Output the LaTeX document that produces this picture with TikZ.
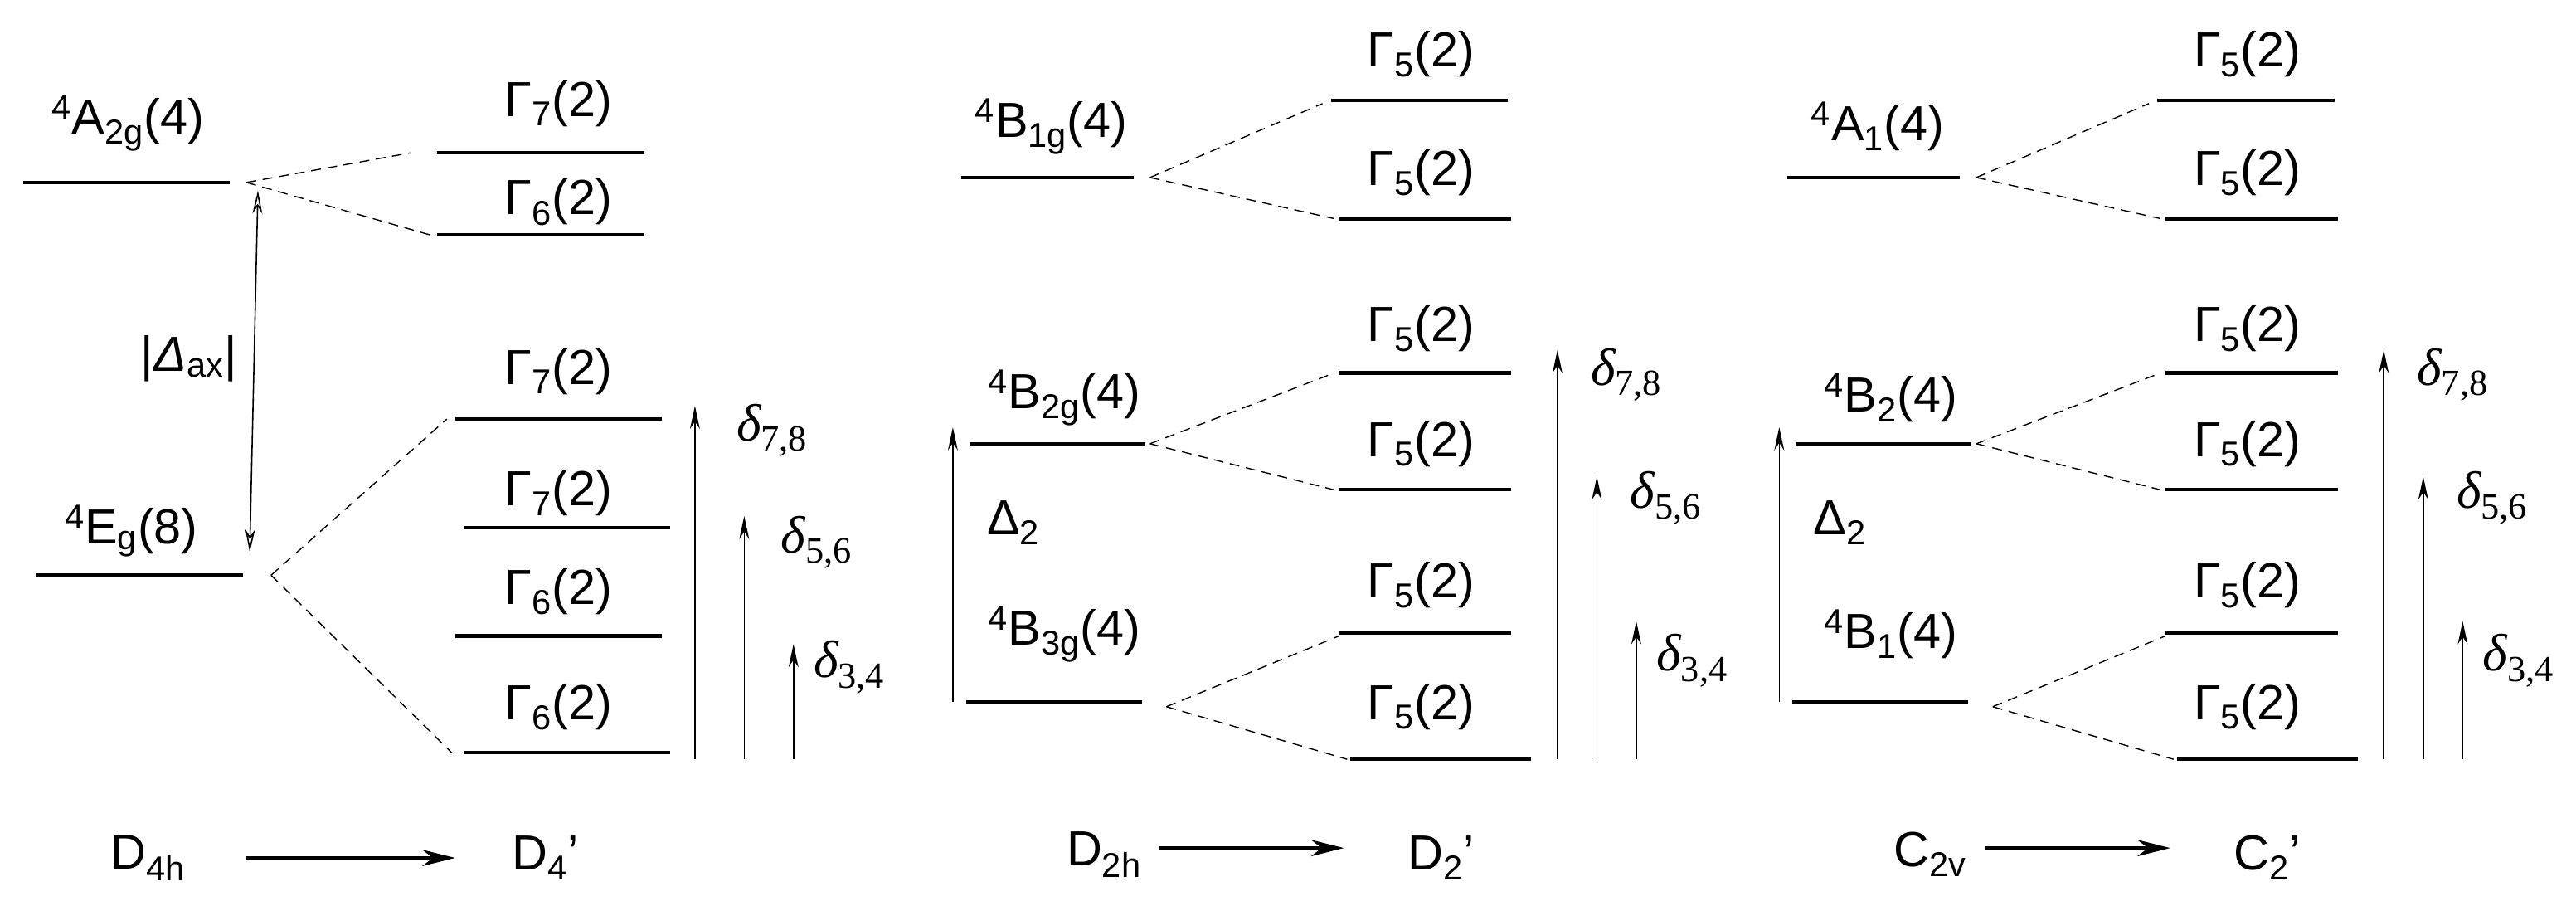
\documentclass[tikz,border=0pt]{standalone}
\usepackage{fontspec}
\setmainfont{Liberation Sans}
\newfontfamily\tms{Liberation Serif}
\usetikzlibrary{arrows.meta}
\newcommand{\sub}[1]{\textsubscript{#1}}
\newcommand{\sps}[1]{\textsuperscript{#1}}
\newcommand{\dlt}[1]{{\tms\itshape δ}\sub{\tms #1}}
\begin{document}
\begin{tikzpicture}[x=1pt,y=-1pt,
 lvl/.style={line width=2.2pt},
 dsh/.style={line width=0.7pt,dash pattern=on 6pt off 4pt},
 arr/.style={-{Stealth[length=14pt,width=6pt]},line width=0.8pt},
 lab/.style={font=\fontsize{30}{32}\selectfont,inner sep=0pt},
 dlab/.style={font=\fontsize{32}{34}\selectfont,inner sep=0pt}]
\useasboundingbox (0,0) rectangle (1568,551);
% Panel 1
\draw[lvl] (14,111) -- (140,111);
\node[lab] (A2g) at (78,75) {\sps{4}A\sub{2g}(4)};
\draw[lvl] (266,93) -- (392,93); \node[lab] at (340,63) {Γ\sub{7}(2)};
\draw[lvl] (266,143) -- (392,143); \node[lab] at (340,123) {Γ\sub{6}(2)};
\coordinate (p1) at (150,111);
\draw[dsh] (p1) -- (250,93); \draw[dsh] (p1) -- (262,143);
\draw[lvl] (22,350) -- (148,350); \node[lab] at (80,323) {\sps{4}E\sub{g}(8)};
\coordinate (e1) at (152,336); \coordinate (e2) at (157,116);
\draw[{Stealth[length=14pt,width=6pt,open]}-{Stealth[length=14pt,width=6pt,open]},line width=0.8pt] (e1) -- (e2);
\node[lab] at (115,218) {|\textit{Δ}\sub{ax}|};
\coordinate (p2) at (165,350);
\draw[dsh] (p2) -- (272,255); \draw[dsh] (p2) -- (275,458);
\draw[lvl] (277,255) -- (403,255); \node[lab] at (340,226) {Γ\sub{7}(2)};
\draw[lvl] (282,321) -- (408,321); \node[lab] at (340,300) {Γ\sub{7}(2)};
\draw[lvl] (277,387) -- (403,387); \node[lab] at (340,360) {Γ\sub{6}(2)};
\draw[lvl] (282,458) -- (408,458); \node[lab] at (340,430) {Γ\sub{6}(2)};
\draw[arr] (423,462) -- (423,247); \node[dlab] at (470,262) {\dlt{7,8}};
\draw[arr] (453,462) -- (453,314); \node[dlab] at (497,330) {\dlt{5,6}};
\draw[arr] (483,462) -- (483,392); \node[dlab] at (517,406) {\dlt{3,4}};
\node[lab] (d4h) at (90,522) {D\sub{4h}};
\node[lab] (d4) at (332,522) {D\sub{4}'};
\draw[-{Stealth[length=20pt,width=10pt]},line width=1.8pt] (150,522) -- (277,522);
% Panels 2 and 3
\foreach \o/\ta/\tb/\tc/\xa/\xb in {0/\sps{4}B\sub{1g}(4)/\sps{4}B\sub{2g}(4)/\sps{4}B\sub{3g}(4)/D\sub{2h}/D\sub{2}',
                                     503/\sps{4}A\sub{1}(4)/\sps{4}B\sub{2}(4)/\sps{4}B\sub{1}(4)/C\sub{2v}/C\sub{2}'}{
\begin{scope}[xshift=\o]
\draw[lvl] (585,108) -- (690,108); \node[lab] at (640,77) {\ta};
\draw[lvl] (810,61) -- (918,61); \node[lab] at (865,33) {Γ\sub{5}(2)};
\draw[lvl] (815,133) -- (920,133); \node[lab] at (865,105) {Γ\sub{5}(2)};
\draw[dsh] (700,108) -- (805,63); \draw[dsh] (700,108) -- (812,133);
\draw[lvl] (590,270) -- (697,270); \node[lab] at (648,242) {\tb};
\draw[lvl] (588,427) -- (695,427); \node[lab] at (648,386) {\tc};
\draw[arr] (580,427) -- (580,260); \node[lab] at (617,318) {Δ\sub{2}};
\draw[lvl] (815,227) -- (920,227); \node[lab] at (865,200) {Γ\sub{5}(2)};
\draw[lvl] (815,298) -- (920,298); \node[lab] at (865,270) {Γ\sub{5}(2)};
\draw[lvl] (815,385) -- (920,385); \node[lab] at (865,356) {Γ\sub{5}(2)};
\draw[lvl] (822,462) -- (932,462); \node[lab] at (865,430) {Γ\sub{5}(2)};
\draw[dsh] (700,270) -- (812,227); \draw[dsh] (700,270) -- (812,298);
\draw[dsh] (710,430) -- (815,387); \draw[dsh] (710,430) -- (820,462);
\draw[arr] (948,462) -- (948,213); \node[dlab] at (990,228) {\dlt{7,8}};
\draw[arr] (972,462) -- (972,290); \node[dlab] at (1014,303) {\dlt{5,6}};
\draw[arr] (996,462) -- (996,378); \node[dlab] at (1030,402) {\dlt{3,4}};
\node[lab] at (672,520) {\xa};
\node[lab] at (877,522) {\xb};
\draw[-{Stealth[length=20pt,width=10pt]},line width=1.8pt] (705,516) -- (818,516);
\end{scope}}
\end{tikzpicture}
\end{document}
